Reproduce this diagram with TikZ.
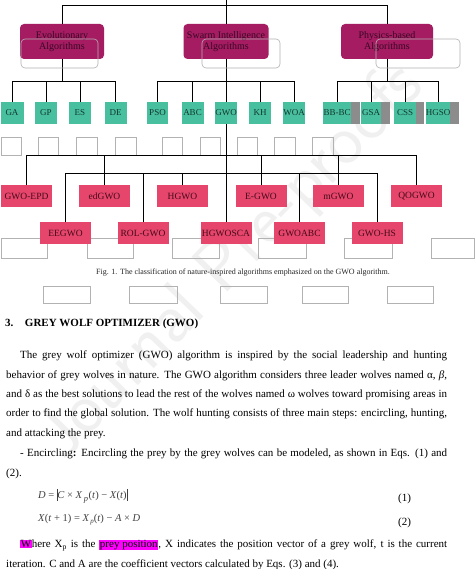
\documentclass[tikz,border=0pt]{standalone}
\usepackage{fontspec}
\usepackage{graphicx}
\setmainfont{Liberation Serif}
\definecolor{magc}{RGB}{165,28,98}
\definecolor{magt}{RGB}{55,8,35}
\definecolor{tealc}{RGB}{72,192,160}
\definecolor{tealt}{RGB}{18,55,45}
\definecolor{redc}{RGB}{230,70,108}
\definecolor{redt}{RGB}{70,10,25}
\definecolor{ghostc}{RGB}{178,178,178}
\definecolor{shadec}{RGB}{140,140,140}
\definecolor{hl}{RGB}{255,0,255}
\newcommand{\eqbar}{\raisebox{-2.5pt}{\rule{0.5pt}{12pt}}}
\newcommand{\eqsp}{\hspace{2.6pt}}
\begin{document}
\begin{tikzpicture}[x=1pt,y=-1pt,
  conn/.style={line width=0.9pt, black},
  catbox/.style={fill=magc, rounded corners=4pt, text=magt, align=center, inner sep=0pt,
    minimum height=35pt, font=\fontsize{10}{11}\selectfont},
  leaf/.style={fill=tealc, text=tealt, inner sep=0pt, minimum height=22pt, font=\fontsize{9}{10}\selectfont},
  gwobox/.style={fill=redc, text=redt, inner sep=0pt, minimum width=51pt, minimum height=22pt,
    font=\fontsize{9.5}{10}\selectfont},
  ghost/.style={draw=ghostc, line width=0.6pt},
  shade/.style={fill=shadec},
  bodytext/.style={anchor=base west, inner sep=0pt, font=\fontsize{11}{13}\selectfont},
  eqtext/.style={anchor=base west, inner sep=0pt, text=black!75, font=\fontsize{10.5}{12}\selectfont},
]
\useasboundingbox (0,0) rectangle (474,569);
\fill[white] (0,0) rectangle (474,569);
% watermark
\node[rotate=46, text=black!6, font=\fontsize{72}{72}\selectfont\sffamily] (wm) at (232,262) {Journal Pre-proofs};

% ghost outlines under the boxes
\foreach \a/\b in {1/21,38/58,76/97,115/136,162/182,200/220,237/257,274/295,312/333}
  \draw[ghost] (\a,137) rectangle (\b,155);
\foreach \a/\b in {1/47,87/133,172/219,258/306,344/392,431/474}
  \draw[ghost] (\a,238) rectangle (\b,258);
\foreach \a/\b in {43/90,129/177,220/267,302/348,387/433}
  \draw[ghost] (\a,286) rectangle (\b,303);

% category boxes
\node[catbox, minimum width=84pt] (evo) at (62,41.5) {Evolutionary\\Algorithms};
\node[catbox, minimum width=85pt] (swarm) at (226,41.5) {Swarm Intelligence\\Algorithms};
\node[catbox, minimum width=92pt] (phys) at (387,41.5) {Physics-based\\Algorithms};

% leaves
\node[leaf, minimum width=23pt] (ga) at (12,113) {GA};
\node[leaf, minimum width=22pt] (gp) at (46,113) {GP};
\node[leaf, minimum width=22pt] (es) at (80,113) {ES};
\node[leaf, minimum width=22pt] (de) at (115.5,113) {DE};
\node[leaf, minimum width=21pt] (pso) at (157.5,113) {PSO};
\node[leaf, minimum width=22pt] (abc) at (192.5,113) {ABC};
\node[leaf, minimum width=22pt] (gwo) at (226,113) {GWO};
\node[leaf, minimum width=22pt] (kh) at (260,113) {KH};
\node[leaf, minimum width=22pt] (woa) at (294,113) {WOA};
\fill[shade] (351,102) rectangle (360,124);
\fill[shade] (381,102) rectangle (390,124);
\fill[shade] (416,102) rectangle (424,124);
\fill[shade] (450,102) rectangle (459,124);
\node[leaf, minimum width=28pt] (bbbc) at (337,113) {BB-BC};
\node[leaf, minimum width=20pt] (gsa) at (371,113) {GSA};
\node[leaf, minimum width=22pt] (css) at (405,113) {CSS};
\node[leaf, minimum width=24pt] (hgso) at (438,113) {\raisebox{-2pt}{HGSO}};

% GWO variants
\node[gwobox] (epd) at (26.5,196) {GWO-EPD};
\node[gwobox] (edgwo) at (104.5,196) {edGWO};
\node[gwobox] (hgwo) at (182.5,196) {HGWO};
\node[gwobox] (egwo) at (261,196) {E-GWO};
\node[gwobox] (mgwo) at (338.5,196) {mGWO};
\node[gwobox] (qogwo) at (416.5,196) {QOGWO};
\node[gwobox] (eegwo) at (65.5,233) {EEGWO};
\node[gwobox] (rol) at (143,233) {ROL-GWO};
\node[gwobox] (hgwosca) at (226,233) {HGWOSCA};
\node[gwobox] (gwoabc) at (299.5,233) {GWOABC};
\node[gwobox] (gwohs) at (377,233) {GWO-HS};

% connectors
\coordinate (root) at (226,0);
\coordinate (tb) at (0,5);
\coordinate (b1) at (0,81);
\coordinate (b2) at (0,155);
\coordinate (b3) at (0,173);
\draw[conn] (evo.north) -- (evo.north |- tb) -- (phys.north |- tb) -- (phys.north);
\draw[conn] (root) -- (swarm.north);
\draw[conn] (evo.south) -- (evo.south |- b1);
\draw[conn] (ga.north) -- (ga.north |- b1) -- (de.north |- b1) -- (de.north);
\draw[conn] (gp.north) -- (gp.north |- b1);
\draw[conn] (es.north) -- (es.north |- b1);
\draw[conn] (pso.north) -- (pso.north |- b1) -- (woa.north |- b1) -- (woa.north);
\draw[conn] (swarm.south) -- (gwo.north);
\draw[conn] (abc.north) -- (abc.north |- b1);
\draw[conn] (kh.north) -- (kh.north |- b1);
\draw[conn] (phys.south) -- (phys.south |- b1);
\draw[conn] (bbbc.north) -- (bbbc.north |- b1) -- (hgso.north |- b1) -- (hgso.north);
\draw[conn] (gsa.north) -- (gsa.north |- b1);
\draw[conn] (css.north) -- (css.north |- b1);
\draw[conn] (gwo.south) -- (hgwosca.north);
\draw[conn] (epd.north) -- (epd.north |- b2) -- (qogwo.north |- b2) -- (qogwo.north);
\draw[conn] (edgwo.north) -- (edgwo.north |- b2);
\draw[conn] (egwo.north) -- (egwo.north |- b2);
\draw[conn] (mgwo.north) -- (mgwo.north |- b2);
\draw[conn] (eegwo.north) -- (eegwo.north |- b3) -- (gwohs.north |- b3) -- (gwohs.north);
\draw[conn] (hgwo.north) -- (hgwo.north |- b3);
\draw[conn] (rol.north) -- (rol.north |- b3);
\draw[conn] (gwoabc.north) -- (gwoabc.north |- b3);

% ghost outlines over the category boxes
\draw[ghost, rounded corners=4pt] (21,39) rectangle (98,68);
\draw[ghost, rounded corners=4pt] (202,39) rectangle (280,68);
\draw[ghost, rounded corners=4pt] (376,39) rectangle (460,68);

% caption
\node[anchor=base, inner sep=0pt, text=black!85, font=\fontsize{8}{9}\selectfont] (cap) at (243,274.5)
  {Fig. 1. The classification of nature-inspired algorithms emphasized on the GWO algorithm.};

% heading
\node[anchor=base west, inner sep=0pt, font=\fontsize{11}{13}\selectfont\bfseries] (head) at (5,326)
  {3.\hspace{11.5pt}GREY WOLF OPTIMIZER (GWO)};

% body text
\node[bodytext] (l1) at (20,358.5) {\makebox[427pt][s]{The grey wolf optimizer (GWO) algorithm is inspired by the social leadership and hunting}};
\node[bodytext] (l2) at (6,378.5) {\makebox[441pt][s]{behavior of grey wolves in nature. The GWO algorithm considers three leader wolves named α, \textit{β},}};
\node[bodytext] (l3) at (6,397.5) {\makebox[441pt][s]{and δ as the best solutions to lead the rest of the wolves named ω wolves toward promising areas in}};
\node[bodytext] (l4) at (6,416.5) {\makebox[441pt][s]{order to find the global solution. The wolf hunting consists of three main steps: encircling, hunting,}};
\node[bodytext] (l5) at (6,436.5) {and attacking the prey.};
\node[bodytext] (l6) at (20,456.5) {\makebox[427pt][s]{- Encircling\textbf{:} Encircling the prey by the grey wolves can be modeled, as shown in Eqs. (1) and}};
\node[bodytext] (l7) at (6,476.5) {(2).};

% equations
\node[eqtext] (eq1) at (38,498)
  {\textit{D}\eqsp=\eqsp\eqbar\textit{C}\eqsp×\eqsp\textit{X}\hspace{1.5pt}\raisebox{-3.5pt}{\fontsize{8.5}{8.5}\selectfont\textit{p}}\hspace{0.5pt}(\textit{t})\eqsp−\eqsp\textit{X}(\textit{t})\eqbar};
\node[eqtext] (eq2) at (38,521)
  {\textit{X}(\textit{t}\eqsp+\eqsp1)\eqsp=\eqsp\textit{X}\hspace{1pt}\raisebox{-2pt}{\fontsize{7}{7}\selectfont\textit{p}}(\textit{t})\eqsp−\eqsp\textit{A}\eqsp×\eqsp\textit{D}};
\node[bodytext] (n1) at (398,501) {(1)};
\node[bodytext] (n2) at (398,525) {(2)};

\node[bodytext] (l10) at (20,547.5) {\setlength{\fboxsep}{0.6pt}\makebox[427pt][s]{\colorbox{hl}{W}here X\textsubscript{p} is the \colorbox{hl}{prey position}, X indicates the position vector of a grey wolf, t is the current}};
\node[bodytext] (l11) at (6,567.5) {iteration. C and A are the coefficient vectors calculated by Eqs. (3) and (4).};
\end{tikzpicture}
\end{document}
